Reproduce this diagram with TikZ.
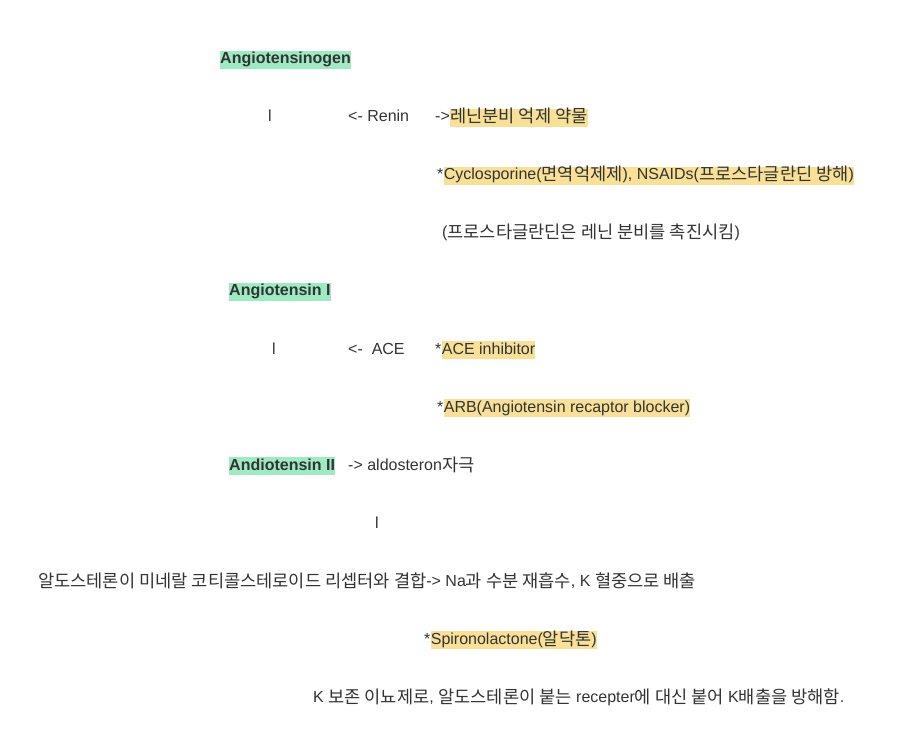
\documentclass[tikz,border=0pt]{standalone}
\usepackage{fontspec}
\setmainfont{Liberation Sans}
\newfontfamily\krfont[Scale=1.1]{Noto Sans CJK KR}
\usetikzlibrary{positioning}
\definecolor{mint}{RGB}{158,235,195}
\definecolor{sand}{RGB}{248,224,150}
\definecolor{ink}{RGB}{51,51,51}
\newcommand{\ko}[1]{\raisebox{-1pt}{\krfont #1}}
\tikzset{
  txt/.style={anchor=base west,inner sep=0pt,text=ink,font=\fontsize{16}{19}\selectfont},
  subst/.style={txt,fill=mint,inner ysep=1pt,text height=12pt,text depth=4pt,
    font=\fontsize{16}{19}\selectfont\bfseries},
  drug/.style={txt,fill=sand,inner ysep=1pt,text height=12pt,text depth=4pt}
}

\begin{document}
\begin{tikzpicture}[x=1pt,y=-1pt]
    \useasboundingbox (0,0) rectangle (902,735);
    % renin step
    \node[subst] (ogen) at (220,64) {Angiotensinogen};
    \node[txt] (bar1) at (268,122) {l};
    \node[txt] (renin) at (348,122) {<- Renin};
    \node[txt] (to) at (435,122) {->};
    \node[drug] (inhib) at (to.base east) {\ko{레닌분비 억제 약물}};
    \node[txt] (star1) at (437,180) {*};
    \node[drug] (cyclo) at (star1.base east) {Cyclosporine(\ko{면역억제제}), NSAIDs(\ko{프로스타글란딘 방해})};
    \node[txt] (pg) at (442,238) {(\ko{프로스타글란딘은 레닌 분비를 촉진시킴})};
    % ACE step
    \node[subst] (ang1) at (229,296) {Angiotensin I};
    \node[txt] (bar2) at (272,354) {l};
    \node[txt] (ace) at (348,354) {<-\ \ ACE};
    \node[txt] (star2) at (435,354) {*\ };
    \node[drug] (acei) at (star2.base east) {ACE inhibitor};
    \node[txt] (star3) at (437,412) {*};
    \node[drug] (arb) at (star3.base east) {ARB(Angiotensin recaptor blocker)};
    % aldosterone
    \node[subst] (ang2) at (229,470) {Andiotensin II};
    \node[txt] (aldo) at (348,470) {-> aldosteron\ko{자극}};
    \node[txt] (bar3) at (375,528) {l};
    \node[txt] (bind) at (38,586) {\ko{알도스테론이 미네랄 코티콜스테로이드 리셉터와 결합}-> Na\ko{과 수분 재흡수}, K \ko{혈중으로 배출}};
    \node[txt] (star4) at (424,644) {*};
    \node[drug] (spiro) at (star4.base east) {Spironolactone(\ko{알닥톤})};
    \node[txt] (ksp) at (313,702) {K \ko{보존 이뇨제로}, \ko{알도스테론이 붙는} recepter\ko{에 대신 붙어} K\ko{배출을 방해함}.};
  \end{tikzpicture}
\end{document}
